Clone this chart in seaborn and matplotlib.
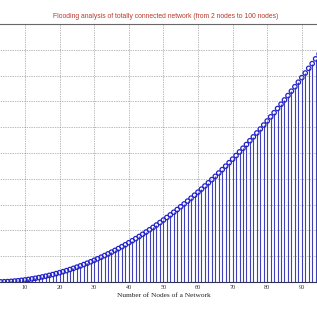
import matplotlib
matplotlib.use("Agg")
import matplotlib.pyplot as plt
import seaborn as sns
import pandas as pd

nodes = list(range(2, 101))
messages = [1, 4, 9, 16, 25, 36, 49, 64, 81, 100, 121, 144, 169, 196, 225, 256, 289, 324,
            361, 400, 441, 484, 529, 576, 625, 676, 729, 784, 841, 900, 961, 1024, 1089,
            1156, 1225, 1296, 1369, 1444, 1521, 1600, 1681, 1764, 1849, 1936, 2025, 2116,
            2209, 2304, 2401, 2500, 2601, 2704, 2809, 2916, 3025, 3136, 3249, 3364, 3481,
            3600, 3721, 3844, 3969, 4096, 4225, 4356, 4489, 4624, 4761, 4900, 5041, 5184,
            5329, 5476, 5625, 5776, 5929, 6084, 6241, 6400, 6561, 6724, 6889, 7056, 7225,
            7396, 7569, 7744, 7921, 8100, 8281, 8464, 8649, 8836, 9025, 9216, 9409, 9604, 9801]
xticks = [0, 10, 20, 30, 40, 50, 60, 70, 80, 90, 100]
xticklabels = ["", "10", "20", "30", "40", "50", "60", "70", "80", "90", ""]
yticks = list(range(0, 10001, 1000))

title = "Flooding analysis of totally connected network (from 2 nodes to 100 nodes)"
xlabel = "Number of Nodes of a Network"

df = pd.DataFrame({"nodes": nodes, "messages": messages})

sns.set_style("white")
fig = plt.figure(figsize=(3.17, 3.17), dpi=100)
fig.patch.set_facecolor("white")
ax = fig.add_axes([-0.0303, 0.1104, 1.0915, 0.8139])

ax.vlines(df["nodes"], 0, df["messages"], colors="#4040b8", linewidth=0.8, zorder=2)
sns.scatterplot(data=df, x="nodes", y="messages", ax=ax, marker="o", s=10,
                facecolor="none", edgecolor="#2222cc", linewidth=0.9, zorder=3)

ax.set_xlim(0, 100)
ax.set_ylim(0, 10000)
ax.set_xticks(xticks)
ax.set_yticks(yticks)
ax.set_xticklabels(xticklabels, fontsize=4.5, family="Liberation Serif", color="#333333")
ax.set_yticklabels([])
ax.tick_params(axis="both", direction="in", length=2, width=0.5, pad=2)
ax.grid(True, linestyle=(0, (1, 1.5)), linewidth=0.5, color="#777777")
for s in ax.spines.values():
    s.set_linewidth(0.8)
    s.set_color("#333355")
ax.spines["top"].set_color("#666666")
ax.set_xlabel(xlabel, fontsize=5.3, family="Liberation Serif", color="#222222", labelpad=2)
ax.set_ylabel("")
fig.text(0.524, 0.948, title, fontsize=4.9, color="#b8382a", ha="center", va="center",
         family="Liberation Sans")

fig.savefig("out.png", dpi=100, facecolor="white")
